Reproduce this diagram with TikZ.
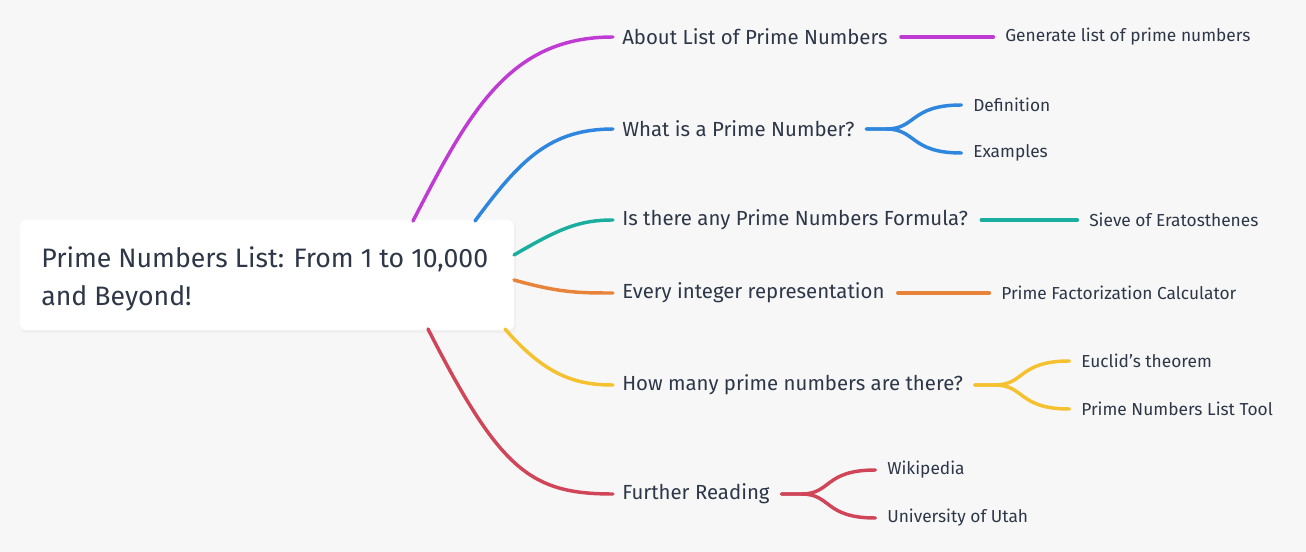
\documentclass[tikz,border=0pt]{standalone}
\usepackage{fontspec}
\setmainfont{Fira Sans}
\definecolor{bgcol}{HTML}{F7F7F7}
\definecolor{txtcol}{HTML}{2D3748}
\definecolor{cmag}{HTML}{C03BD4}
\definecolor{cblue}{HTML}{2E86DE}
\definecolor{cteal}{HTML}{1AAE9F}
\definecolor{corange}{HTML}{E8833A}
\definecolor{cyellow}{HTML}{F5C12E}
\definecolor{cred}{HTML}{D14559}
\tikzset{
  topic/.style={anchor=west,inner sep=0.75pt,text=txtcol,font=\fontsize{15.3}{18}\selectfont},
  leaf/.style={anchor=west,inner sep=0.75pt,text=txtcol,font=\fontsize{13}{15}\selectfont},
  branch/.style={line width=2.6pt,line cap=round},
}
\begin{document}
\begin{tikzpicture}[x=0.75pt,y=0.75pt,yscale=-1,xscale=1]
    \useasboundingbox[fill=bgcol] (0,0) rectangle (1306,552);

    % Root
    \fill[black!6,rounded corners=4pt] (21,222) rectangle (516,333);
    \node[fill=white,rounded corners=4pt,minimum width=494*0.75pt,minimum height=110*0.75pt,inner sep=0pt] (root) at (267,275) {};
    \node[anchor=north west,inner sep=0pt,align=left,text=txtcol,font=\fontsize{20}{28.5}\selectfont] (roottxt) at (41,246) {Prime Numbers List: From 1 to 10,000\\and Beyond!};

    % Topics
    \node[topic] (about) at (621,37) {About List of Prime Numbers};
    \node[topic] (what) at (621,129) {What is a Prime Number?};
    \node[topic] (formula) at (621,220) {Is there any Prime Numbers Formula?};
    \node[topic] (integer) at (621,293) {Every integer representation};
    \node[topic] (many) at (621,385) {How many prime numbers are there?};
    \node[topic] (further) at (621,494) {Further Reading};

    % Leaves
    \node[leaf] (generate) at (1004,37) {Generate list of prime numbers};
    \node[leaf] (defn) at (972,105) {Definition};
    \node[leaf] (examples) at (972,153) {Examples};
    \node[leaf] (sieve) at (1088,220) {Sieve of Eratosthenes};
    \node[leaf] (factor) at (1000,293) {Prime Factorization Calculator};
    \node[leaf] (euclid) at (1080,361) {Euclid's theorem};
    \node[leaf] (tool) at (1080,409) {Prime Numbers List Tool};
    \node[leaf] (wiki) at (886,470) {Wikipedia};
    \node[leaf] (utah) at (886,518) {University of Utah};

    % Branch starts on the root box
    \coordinate (s1) at (413,221);
    \coordinate (s2) at (475,221);
    \coordinate (s3) at (514,255);
    \coordinate (s4) at (514,280);
    \coordinate (s5) at (505,329);
    \coordinate (s6) at (428,329);

    % Root to topics
    \draw[branch,cmag] (s1) .. controls (470,110) and (510,37) .. ([xshift=-6]about.west);
    \draw[branch,cblue] (s2) .. controls (520,160) and (550,129) .. ([xshift=-6]what.west);
    \draw[branch,cteal] (s3) .. controls (560,228) and (580,220) .. ([xshift=-6]formula.west);
    \draw[branch,corange] (s4) .. controls (560,293) and (580,293) .. ([xshift=-6]integer.west);
    \draw[branch,cyellow] (s5) .. controls (545,375) and (575,385) .. ([xshift=-6]many.west);
    \draw[branch,cred] (s6) .. controls (500,470) and (530,494) .. ([xshift=-6]further.west);

    % Topics to leaves
    \draw[branch,cmag] ([xshift=9]about.east) -- ([xshift=-8]generate.west);
    \draw[branch,cblue] ([xshift=8]what.east) -- ++(20,0) .. controls ++(30,0) and (910,105) .. ([xshift=-8]defn.west);
    \draw[branch,cblue] ([xshift=8]what.east) -- ++(20,0) .. controls ++(30,0) and (910,153) .. ([xshift=-8]examples.west);
    \draw[branch,cteal] ([xshift=9]formula.east) -- ([xshift=-8]sieve.west);
    \draw[branch,corange] ([xshift=9]integer.east) -- ([xshift=-8]factor.west);
    \draw[branch,cyellow] ([xshift=8]many.east) -- ++(20,0) .. controls ++(30,0) and (1018,361) .. ([xshift=-8]euclid.west);
    \draw[branch,cyellow] ([xshift=8]many.east) -- ++(20,0) .. controls ++(30,0) and (1018,409) .. ([xshift=-8]tool.west);
    \draw[branch,cred] ([xshift=8]further.east) -- ++(20,0) .. controls ++(30,0) and (824,470) .. ([xshift=-8]wiki.west);
    \draw[branch,cred] ([xshift=8]further.east) -- ++(20,0) .. controls ++(30,0) and (824,518) .. ([xshift=-8]utah.west);
\end{tikzpicture}
\end{document}
